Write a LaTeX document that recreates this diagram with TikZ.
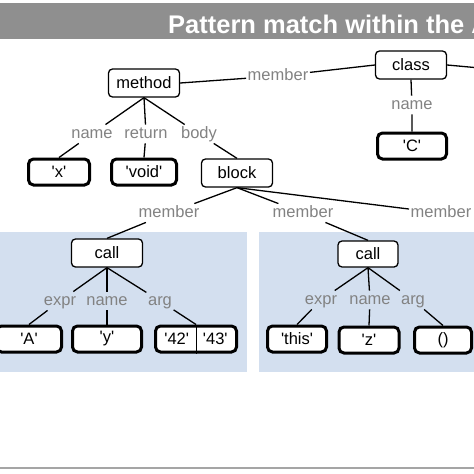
\documentclass[tikz,border=0pt]{standalone}
\usepackage{fontspec}
\setmainfont{Liberation Sans}
\usetikzlibrary{positioning}
\definecolor{titlegray}{RGB}{143,143,143}
\definecolor{panelblue}{RGB}{211,223,239}
\definecolor{labelgray}{RGB}{130,130,130}
\definecolor{rulegray}{RGB}{165,165,165}
\newcommand{\lit}[1]{\textquotesingle#1\textquotesingle}

\tikzset{
  astnode/.style={draw, rounded corners=4pt, line width=1.3pt, fill=white,
    minimum height=28pt, minimum width=71pt, inner sep=2pt,
    font=\fontsize{16.5}{18}\selectfont},
  leaf/.style={astnode, line width=3pt, rounded corners=5pt, minimum height=26pt},
  role/.style={inner sep=1.5pt, text height=12pt, text depth=3.5pt, text=labelgray,
    font=\fontsize{16.5}{18}\selectfont},
  edge/.style={line width=1.3pt}
}

\begin{document}
\begin{tikzpicture}[x=1pt, y=-1pt]
  \useasboundingbox (0,0) rectangle (474,474);
  \clip (0,0) rectangle (474,474);
  % title bar and rule
  \fill[titlegray] (0,3) rectangle (474,39);
  \node[anchor=base west, inner sep=0pt, text=white,
    font=\fontsize{25.5}{28}\selectfont\bfseries] (title) at (168,33) {Pattern match within the AST};
  \fill[rulegray] (0,466.5) rectangle (474,469);
  % panels
  \fill[panelblue] (0,232) rectangle (247,372);
  \fill[panelblue] (259,232) rectangle (474,372);

  % nodes
  \node[astnode] (method) at (144,83) {method};
  \node[astnode] (class) at (411,65) {class};
  \node[leaf, minimum width=69pt] (cname) at (412,146) {\lit{C}};
  \node[leaf, minimum width=61pt] (x) at (59,172) {\lit{x}};
  \node[leaf, minimum width=65pt] (void) at (144,172) {\lit{void}};
  \node[astnode] (block) at (237,173) {block};
  \node[astnode] (call1) at (107,253) {call};
  \node[astnode, minimum width=60pt, minimum height=26pt] (call2) at (368,254) {call};
  \node[leaf, minimum width=65pt] (a) at (29,339) {\lit{A}};
  \node[leaf, minimum width=69pt] (y) at (107,339) {\lit{y}};
  \node[leaf, minimum width=81pt] (args) at (196,339) {\lit{42}\hspace{14pt}\lit{43}};
  \node[leaf, minimum width=59pt] (this) at (297,339) {\lit{this}};
  \node[leaf, minimum width=60pt] (z) at (369,340) {\lit{z}};
  \node[leaf, minimum width=57pt] (empty) at (443,340) {()};
  \draw[line width=0.8pt] (args.north) -- (args.south);
  \coordinate (classout) at (480,68);

  % role labels
  \node[role] (lmember) at (278,76) {member};
  \node[role] (lcname) at (412,105) {name};
  \node[role] (lname) at (92,134) {name};
  \node[role] (lreturn) at (146,134) {return};
  \node[role] (lbody) at (199,134) {body};
  \node[role] (lm1) at (169,213) {member};
  \node[role] (lm2) at (303,213) {member};
  \node[role] (lm3) at (441,213) {member};
  \node[role] (lexpr1) at (60,301) {expr};
  \node[role] (lname1) at (107,301) {name};
  \node[role] (larg1) at (160,301) {arg};
  \node[role] (lexpr2) at (321,300) {expr};
  \node[role] (lname2) at (370,300) {name};
  \node[role] (larg2) at (413,300) {arg};

  % edges
  \draw[edge] (method.east) -- (lmember) -- (class.west);
  \draw[edge] (class.east) -- (classout);
  \draw[edge] (class.south) -- (lcname) -- (cname.north);
  \draw[edge] (method.south) -- (lname) -- (x.north);
  \draw[edge] (method.south) -- (lreturn) -- (void.north);
  \draw[edge] (method.south) -- (lbody) -- (block.north);
  \draw[edge] (block.south) -- (lm1) -- (call1.north);
  \draw[edge] (block.south) -- (lm2) -- (call2.north);
  \draw[edge] (block.south) -- (lm3);
  \draw[edge] (call1.south) -- (lexpr1) -- (a.north);
  \draw[edge] (call1.south) -- (lname1) -- (y.north);
  \draw[edge] (call1.south) -- (larg1) -- (args.north);
  \draw[edge] (call2.south) -- (lexpr2) -- (this.north);
  \draw[edge] (call2.south) -- (lname2) -- (z.north);
  \draw[edge] (call2.south) -- (larg2) -- (empty.north);
\end{tikzpicture}
\end{document}
